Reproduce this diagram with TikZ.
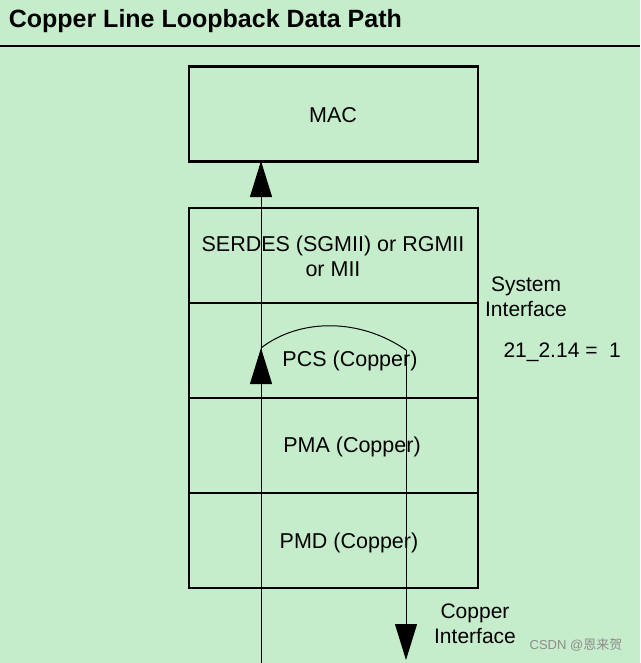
\documentclass[tikz,border=0pt]{standalone}
\usepackage{fontspec}
\setmainfont{Liberation Sans}
\newfontfamily\cjk{Noto Sans CJK SC}
\usetikzlibrary{arrows.meta}
\definecolor{bg}{HTML}{C6EDCB}
\begin{document}
\begin{tikzpicture}[x=1pt,y=-1pt,
  blk/.style={draw,line width=2.5pt,minimum width=289pt,minimum height=95pt,inner sep=0pt},
  txt/.style={align=center,inner sep=0pt,font=\fontsize{21.5}{25}\selectfont},
  lbl/.style={align=center,font=\fontsize{21}{25}\selectfont},
  tri/.style={-{Triangle[length=36pt,width=22pt]}}]
\fill[bg] (0,0) rectangle (640,663);
\useasboundingbox (0,0) rectangle (640,663);
\node[anchor=base west,font=\bfseries\fontsize{25}{30}\selectfont,inner sep=0pt] (title) at (-9,28) {: Copper Line Loopback Data Path};
\draw[line width=2pt] (0,46) -- (640,46);
\node[blk] (mac) at (333.5,114) {};
\node[blk] (serdes) at (333.5,255.5) {};
\node[blk] (pcs) at (333.5,350.5) {};
\node[blk] (pma) at (333.5,445.5) {};
\node[blk] (pmd) at (333.5,540.5) {};
\node[txt] (tmac) at (333,115) {MAC};
\node[txt] (tser) at (333,256) {SERDES (SGMII) or RGMII\\or MII};
\node[txt] (tpcs) at (350,361) {PCS (Copper)};
\node[txt] (tpma) at (352,447) {PMA (Copper)};
\node[txt] (tpmd) at (349,543) {PMD (Copper)};
\coordinate (s) at (261,663);
\coordinate (mtop) at (261,161);
\coordinate (lp) at (261,348);
\coordinate (rp) at (406,350);
\coordinate (e) at (406,660);
\draw[tri,line width=1pt] (s) -- (mtop);
\draw[tri,line width=1pt] (s) -- (lp);
\draw[line width=1pt] (lp) .. controls (300,318) and (360,318) .. (rp);
\draw[tri,line width=1pt] (rp) -- (e);
\node[lbl] (sys) at (526,297) {System\\Interface};
\node[lbl,anchor=west] (reg) at (500,352) {21\_2.14 =~~1};
\node[lbl] (cop) at (475,624) {Copper\\Interface};
\node[font=\fontsize{13}{15}\selectfont,text=gray!90] (csdn) at (576,645) {CSDN @{\cjk 恩来贺}};
\end{tikzpicture}
\end{document}
